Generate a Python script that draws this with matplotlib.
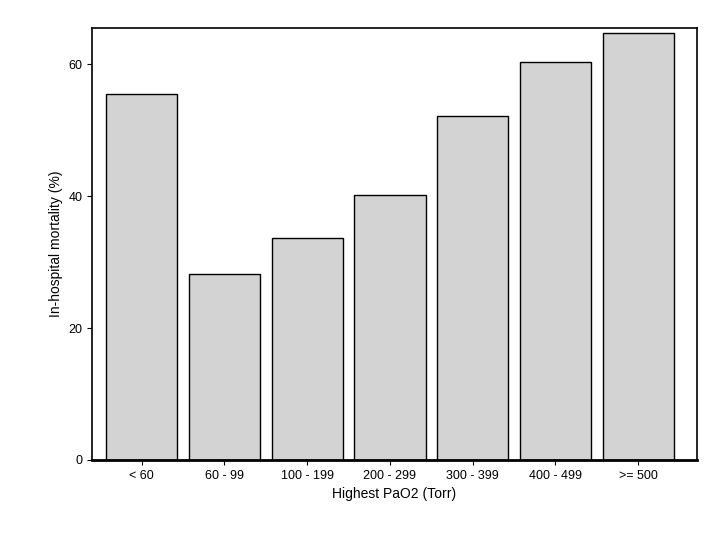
import matplotlib
matplotlib.use("Agg")
import matplotlib.pyplot as plt

categories = ["< 60", "60 - 99", "100 - 199", "200 - 299", "300 - 399", "400 - 499", ">= 500"]
mortality = [55.5, 28.2, 33.6, 40.2, 52.1, 60.3, 64.8]

plt.rcParams['font.family'] = ['Liberation Sans', 'DejaVu Sans']
fig = plt.figure(figsize=(7.2, 5.4), dpi=100)
ax = fig.add_axes([92/720, 80/540, 605/720, 432/540])

x = range(len(categories))
ax.bar(x, mortality, width=0.86, color="#d3d3d3", edgecolor="black", linewidth=1.0)
ax.set_xlim(-0.6, 6.71)
ax.set_ylim(0, 65.5)
ax.set_xticks(list(x))
ax.set_xticklabels(categories, fontsize=9)
ax.set_yticks([0, 20, 40, 60])
ax.tick_params(axis='y', labelsize=9)
ax.set_xlabel("Highest PaO2 (Torr)", fontsize=10)
ax.set_ylabel("In-hospital mortality (%)", fontsize=10)
for s in ax.spines.values():
    s.set_linewidth(1.2)
ax.spines['bottom'].set_linewidth(2)

fig.savefig("out.png", dpi=100)
